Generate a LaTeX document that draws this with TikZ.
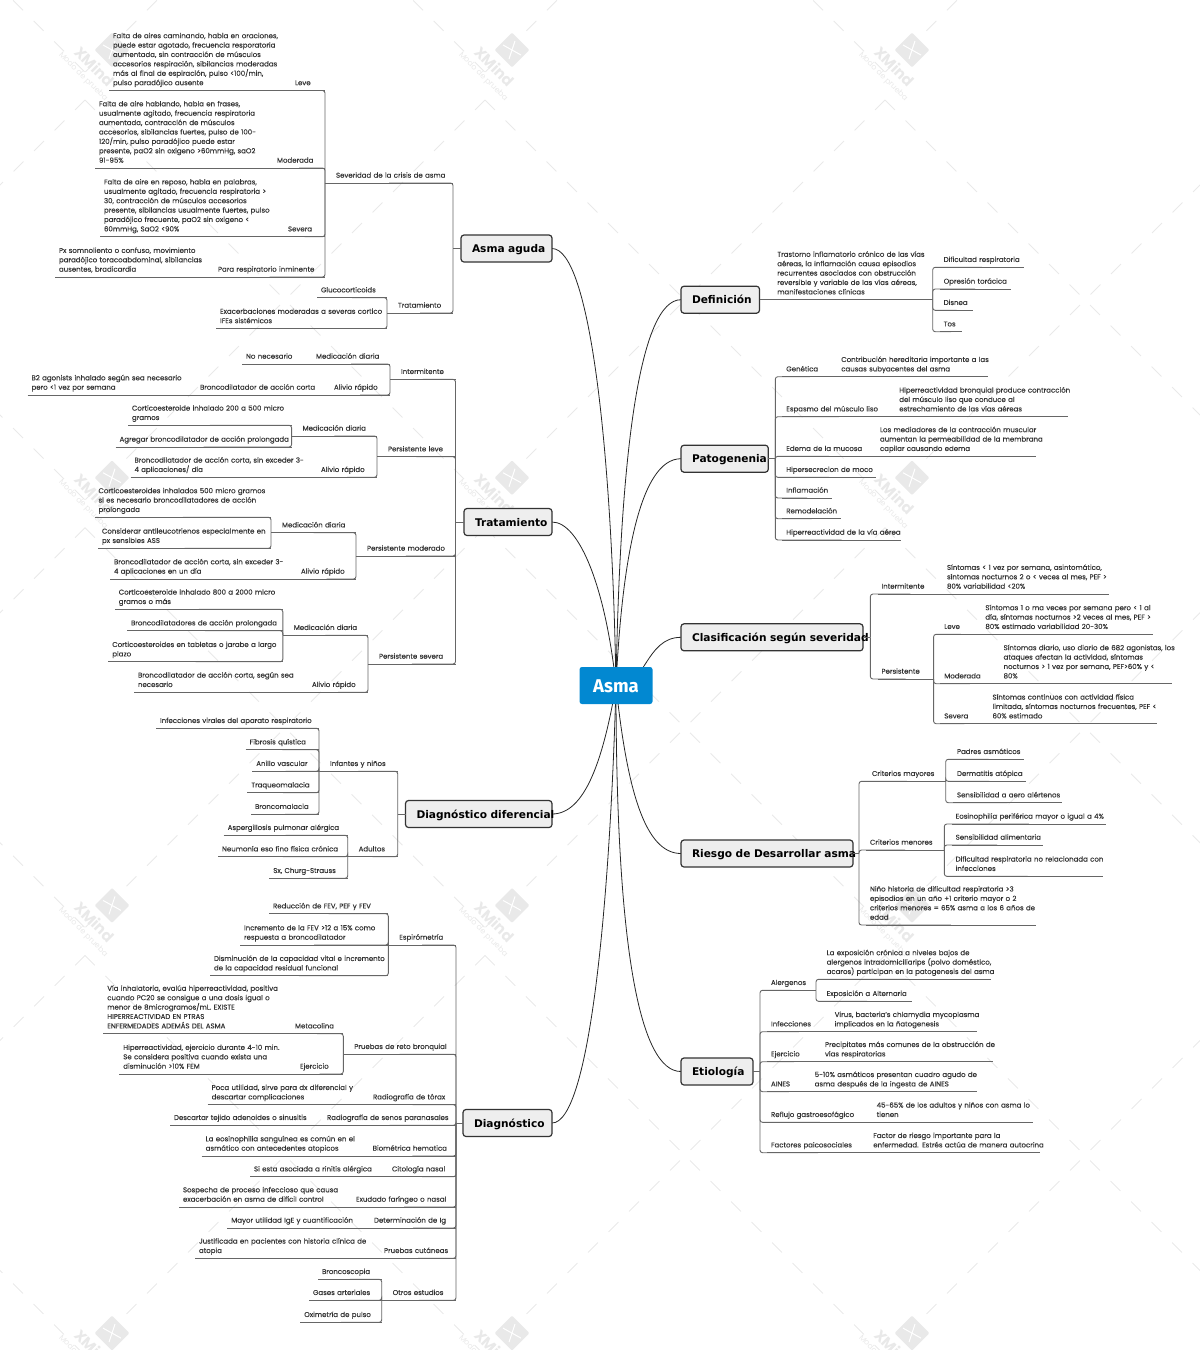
\documentclass[tikz,border=0pt]{standalone}
\usepackage{fontspec}
\setmainfont{Poppins}[FakeBold=0.15]
\newfontfamily\markfont{Poppins}
\newfontfamily\titlefont{DejaVu Sans}
\newfontfamily\rootfont{Fira Sans}
\usetikzlibrary{backgrounds}
\definecolor{wireC}{HTML}{666666}
\definecolor{boxC}{HTML}{EEEEEE}
\definecolor{rootC}{HTML}{0288D1}
\definecolor{markC}{HTML}{E9E9E9}
\newcommand{\pad}{\hspace*{7pt}}
\newcommand{\ttl}[1]{\raisebox{-1.4pt}[0pt][0pt]{#1}}
\tikzset{
  wire/.style={draw=wireC,line width=.9pt,rounded corners=2.5pt},
  curve/.style={draw=black!85,line width=.8pt},
  lined/.style={append after command={(\tikzlastnode.south west) edge[wire] (\tikzlastnode.south east)}},
  tp/.code={\pgfmathsetmacro\tpw{#1-8}\pgfkeysalso{/tikz/text width=\tpw pt,/tikz/lined}},
  tb/.code={\pgfmathsetmacro\tbw{#1-22}\pgfkeysalso{/tikz/text width=\tbw pt}},
  every node/.style={font=\fontsize{7}{9.4}\selectfont,text=black!80,anchor=south west,align=left,
    inner xsep=4pt,inner ysep=2.5pt,outer sep=0pt,
    execute at begin node={\rightskip=-60pt plus 1fil\relax},execute at end node={\strut}},
  mainbox/.style={tb=#1,anchor=west,draw=black!80,line width=1.2pt,fill=boxC,rounded corners=3pt,
    inner xsep=11pt,inner ysep=0pt,minimum height=27pt,text=black,execute at end node={},
    font=\titlefont\fontsize{10.6}{13}\bfseries\selectfont},
  rootbox/.style={anchor=center,fill=rootC,rounded corners=2.5pt,minimum width=73pt,minimum height=37pt,
    text=white,align=center,execute at begin node={},execute at end node={},
    font=\rootfont\fontsize{18.5}{20}\bfseries\selectfont},
  wmark/.style={text=markC,anchor=center,inner sep=0pt,execute at begin node={},execute at end node={}}
}
\begin{document}
\begin{tikzpicture}[x=1pt,y=-1pt]
\useasboundingbox (0,0) rectangle (1200,1350);
\node[rootbox] (root) at (616,685.5) {\raisebox{-3.2pt}[0pt][0pt]{Asma}};

% Asma aguda
\node[mainbox=91] (aguda) at (461,248.5) {\ttl{Asma aguda}};
\coordinate (agudaBr) at (453,248.5);
\node[tp=128] (sev) at (325,183) {\pad Severidad de la crisis de asma};
\node[tp=66] (agTrat) at (387,313) {\pad Tratamiento};
\node[tp=34] (leve) at (291,90.5) {Leve};
\node[tp=182] (leveT) at (109,90.5) {Falta de aires caminando, habla en oraciones,\\puede estar agotado, frecuencia resporatoria\\aumentada, sin contracción de músculos\\accesorios respiración, sibilancias moderadas\\más al final de espiración, pulso <100/min,\\pulso paradójico ausente};
\node[tp=52] (mod) at (273,168) {Moderada};
\node[tp=178] (modT) at (95,168) {Falta de aire hablando, habla en frases,\\usualmente agitado, frecuencia respiratoria\\aumentada, contracción de músculos\\accesorios, sibilancias fuertes, pulso de 100-\\120/min, pulso paradójico puede estar\\presente, paO2 sin oxigeno >60mmHg, saO2\\91-95\%};
\node[tp=41] (sevr) at (284,236.7) {Severa};
\node[tp=184] (sevrT) at (100,236.7) {Falta de aire en reposo, habla en palabras,\\usualmente agitado, frecuencia respiratoria >\\30, contracción de músculos accesorios\\presente, sibilancias usualmente fuertes, pulso\\paradójico frecuente, paO2 sin oxigeno <\\60mmHg, SaO2 <90\%};
\node[tp=111] (para) at (214,277) {Para respiratorio inminente};
\node[tp=159] (paraT) at (55,277) {Px somnoliento o confuso, movimiento\\paradójico toracoabdominal, sibilancias\\ausentes, bradicardia};
\node[tp=70] (gluco) at (317,297.7) {Glucocorticoids};
\node[tp=171] (exac) at (216,328.5) {Exacerbaciones moderadas a severas cortico\\IFEs sistémicos};
\draw[wire] (aguda.west) -- (agudaBr);
\foreach \c in {sev,agTrat} \draw[wire] (agudaBr) |- (\c.south);
\foreach \c in {leve,mod,sevr,para} \draw[wire] (sev.south west) |- (\c.south);
\foreach \c in {gluco,exac} \draw[wire] (agTrat.south west) |- (\c.south);

% Tratamiento
\node[mainbox=88] (trat) at (464,522) {\ttl{Tratamiento}};
\coordinate (tratBr) at (455.5,522);
\node[tp=65.5] (tInt) at (390,379.3) {\pad Intermitente};
\node[tp=78.5] (tLeve) at (377,456.7) {\pad Persistente leve};
\node[tp=99.5] (tMod) at (356,556) {\pad Persistente moderado};
\node[tp=87.5] (tSev) at (368,664) {\pad Persistente severa};
\node[tp=78] (iMed) at (312,364) {Medicación diaria};
\node[tp=70] (iMedT) at (242,364) {No necesario};
\node[tp=60] (iAli) at (330,395) {Alivio rápido};
\node[tp=134] (iAliT) at (196,395) {Broncodilatador de acción corta};
\node[tp=168.5] (iB2) at (27.5,395) {B2 agonists inhalado según sea necesario\\pero <1 vez por semana};
\node[tp=85.4] (lMed) at (291.6,436) {\pad Medicación diaria};
\node[tp=163.6] (lCor) at (128,425.3) {Corticoesteroide inhalado 200 a 500 micro\\gramos};
\node[tp=176] (lAgr) at (115.6,447) {Agregar broncodilatador de acción prolongada};
\node[tp=60] (lAli) at (317,477.3) {Alivio rápido};
\node[tp=186.5] (lAliT) at (130.5,477.3) {Broncodilatador de acción corta, sin exceder 3-\\4 aplicaciones/ día};
\node[tp=85] (mMed) at (271,532.7) {\pad Medicación diaria};
\node[tp=176.5] (mCor) at (94.5,517.3) {Corticoesteroides inhalados 500 micro gramos\\si es necesario broncodilatadores de acción\\prolongada};
\node[tp=173] (mCon) at (98,548.3) {Considerar antileucotrienos especialmente en\\px sensibles ASS};
\node[tp=59] (mAli) at (297,579) {Alivio rápido};
\node[tp=187] (mAliT) at (110,579) {Broncodilatador de acción corta, sin exceder 3-\\4 aplicaciones en un día};
\node[tp=85.2] (sMed) at (282.8,635.3) {\pad Medicación diaria};
\node[tp=168] (sCor) at (114.8,609.3) {Corticoesteroide inhalado 800 a 2000 micro\\gramos o más};
\node[tp=155.8] (sBro) at (127,630.7) {Broncodilatadores de acción prolongada};
\node[tp=174.5] (sTab) at (108.3,661.7) {Corticoesteroides en tabletas o jarabe a largo\\plazo};
\node[tp=60] (sAli) at (308,692.3) {Alivio rápido};
\node[tp=174] (sAliT) at (134,692.3) {Broncodilatador de acción corta, según sea\\necesario};
\draw[wire] (trat.west) -- (tratBr);
\foreach \c in {tInt,tLeve,tMod,tSev} \draw[wire] (tratBr) |- (\c.south);
\foreach \c in {iMed,iAli} \draw[wire] (tInt.south west) |- (\c.south);
\foreach \c in {lMed,lAli} \draw[wire] (tLeve.south west) |- (\c.south);
\foreach \c in {lCor,lAgr} \draw[wire] (lMed.south west) |- (\c.south);
\foreach \c in {mMed,mAli} \draw[wire] (tMod.south west) |- (\c.south);
\foreach \c in {mCor,mCon} \draw[wire] (mMed.south west) |- (\c.south);
\foreach \c in {sMed,sAli} \draw[wire] (tSev.south west) |- (\c.south);
\foreach \c in {sCor,sBro,sTab} \draw[wire] (sMed.south west) |- (\c.south);

% Diagnostico diferencial
\node[mainbox=146.5] (ddif) at (405.5,814) {\ttl{Diagnóstico diferencial}};
\coordinate (ddifBr) at (397.7,814);
\node[tp=78.7] (inf) at (319,771.3) {\pad Infantes y niños};
\node[tp=50] (adu) at (347.7,856.7) {\pad Adultos};
\node[tp=163] (iVir) at (156,728.3) {Infecciones virales del aparato respiratorio};
\node[tp=73.3] (iFib) at (245.7,749.7) {Fibrosis quística};
\node[tp=66.7] (iAni) at (252.3,771.3) {Anillo vascular};
\node[tp=71.7] (iTra) at (247.3,792.7) {Traqueomalacia};
\node[tp=68] (iBro) at (251,814.3) {Broncomalacia};
\node[tp=124] (aAsp) at (223.7,835.3) {Aspergillosis pulmonar alérgica};
\node[tp=129.7] (aNeu) at (218,856.7) {Neumonía eso fino física crónica};
\node[tp=78.4] (aSx) at (269.3,878.3) {Sx, Churg-Strauss};
\draw[wire] (ddif.west) -- (ddifBr);
\foreach \c in {inf,adu} \draw[wire] (ddifBr) |- (\c.south);
\foreach \c in {iVir,iFib,iAni,iTra,iBro} \draw[wire] (inf.south west) |- (\c.south);
\foreach \c in {aAsp,aNeu,aSx} \draw[wire] (adu.south west) |- (\c.south);

% Diagnostico
\node[mainbox=89] (diag) at (463,1123) {\ttl{Diagnóstico}};
\coordinate (diagBr) at (456,1123);
\node[tp=67.7] (esp) at (388.3,945) {\pad Espirómetría};
\node[tp=112.7] (ret) at (343.3,1054.3) {\pad Pruebas de reto bronquial};
\node[tp=119.3] (eRed) at (269,913.7) {Reducción de FEV, PEF y FEV};
\node[tp=148.3] (eInc) at (240,945) {Incremento de la FEV >12 a 15\% como\\respuesta a broncodilatador};
\node[tp=178.3] (eDis) at (210,975.7) {Disminución de la capacidad vital e incremento\\de la capacidad residual funcional};
\node[tp=52.3] (rMet) at (291,1033.7) {Metacolina};
\node[tp=187.7] (rMetT) at (103.3,1033.7) {Vía inhalatoria, evalúa hiperreactividad, positiva\\cuando PC20 se consigue a una dosis igual o\\menor de 8microgramos/mL. EXISTE\\HIPERREACTIVIDAD EN PTRAS\\ENFERMEDADES ADEMÁS DEL ASMA};
\node[tp=47.3] (rEje) at (296,1074) {Ejercicio};
\node[tp=176.7] (rEjeT) at (119.3,1074) {Hiperreactividad, ejercicio durante 4-10 min.\\Se considera positiva cuando exista una\\disminución >10\% FEM};
\node[tp=87] (dRad) at (369,1104.7) {Radiografía de tórax};
\node[tp=161.3] (dRadT) at (207.7,1104.7) {Poca utilidad, sirve para dx diferencial y\\descartar complicaciones};
\node[tp=133] (dSen) at (323,1125.3) {Radiografía de senos paranasales};
\node[tp=153] (dSenT) at (170,1125.3) {Descartar tejido adenoides o sinusitis};
\node[tp=87.3] (dBio) at (368.7,1156) {Biométrica hematica};
\node[tp=167] (dBioT) at (201.7,1156) {La eosinophilia sanguínea es común en el\\asmático con antecedentes atopicos};
\node[tp=68] (dCit) at (388,1176.7) {Citología nasal};
\node[tp=138] (dCitT) at (250,1176.7) {Si esta asociada a rinitis alérgica};
\node[tp=104] (dExu) at (352,1207) {Exudado faríngeo o nasal};
\node[tp=173] (dExuT) at (179,1207) {Sospecha de proceso infeccioso que causa\\exacerbación en asma de difícil control};
\node[tp=86] (dDet) at (370,1228) {Determinación de Ig};
\node[tp=142.7] (dDetT) at (227.3,1228) {Mayor utilidad IgE y cuantificación};
\node[tp=76] (dCut) at (380,1258.3) {Pruebas cutáneas};
\node[tp=185] (dCutT) at (195,1258.3) {Justificada en pacientes con historia clínica de\\atopia};
\node[tp=74.3] (dOtr) at (381.7,1300.3) {\pad Otros estudios};
\node[tp=63.7] (oBro) at (318,1279.3) {Broncoscopia};
\node[tp=72.7] (oGas) at (309,1300.3) {Gases arteriales};
\node[tp=81.4] (oOxi) at (300.3,1322.3) {Oximetría de pulso};
\draw[wire] (diag.west) -- (diagBr);
\foreach \c in {esp,ret,dRad,dSen,dBio,dCit,dExu,dDet,dCut,dOtr} \draw[wire] (diagBr) |- (\c.south);
\foreach \c in {eRed,eInc,eDis} \draw[wire] (esp.south west) |- (\c.south);
\foreach \c in {rMet,rEje} \draw[wire] (ret.south west) |- (\c.south);
\foreach \c in {oBro,oGas,oOxi} \draw[wire] (dOtr.south west) |- (\c.south);

% Definicion
\node[mainbox=78.5] (defi) at (681,299.7) {\ttl{Definición}};
\node[tp=159.4] (tras) at (773.3,299.7) {Trastorno inflamatorio crónico de las vías\\aéreas, la inflamación causa episodios\\recurrentes asociados con obstrucción\\reversible y variable de las vías aéreas,\\manifestaciones clínicas};
\node[tp=84.3] (dDif) at (939.7,267.3) {Dificultad respiratoria};
\node[tp=71] (dOpr) at (939.7,289) {Opresión torácica};
\node[tp=33.6] (dDis) at (939.7,310.3) {Disnea};
\node[tp=22.6] (dTos) at (939.7,331.7) {Tos};
\draw[wire] (defi.east) -- (tras.south west);
\foreach \c in {dDif,dOpr,dDis,dTos} \draw[wire] (tras.south east) |- (\c.south);

% Patogenenia
\node[mainbox=87.3] (pato) at (681,458.7) {\ttl{Patogenenia}};
\coordinate (patoBr) at (775.3,458.7);
\node[tp=55] (pGen) at (782.3,376.7) {Genética};
\node[tp=150.4] (pGenT) at (837.3,376.7) {Contribución hereditaria importante a las\\causas subyacentes del asma};
\node[tp=113] (pEsp) at (782.3,416.7) {Espasmo del músculo liso};
\node[tp=172.4] (pEspT) at (895.3,416.7) {Hiperreactividad bronquial produce contracción\\del músculo liso que conduce al\\estrechamiento de las vías aéreas};
\node[tp=93.7] (pEde) at (782.3,456.3) {Edema de la mucosa};
\node[tp=159.7] (pEdeT) at (876,456.3) {Los mediadores de la contracción muscular\\aumentan la permeabilidad de la membrana\\capilar causando edema};
\node[tp=93.4] (pHip) at (782.3,477.3) {Hipersecrecion de moco};
\node[tp=49.4] (pInf) at (782.3,498) {Inflamación};
\node[tp=58.4] (pRem) at (782.3,518.7) {Remodelación};
\node[tp=118.4] (pHrr) at (782.3,540) {Hiperreactividad de la vía aérea};
\draw[wire] (pato.east) -- (patoBr);
\foreach \c in {pGen,pEsp,pEde,pHip,pInf,pRem,pHrr} \draw[wire] (patoBr) |- (\c.south);

% Clasificacion
\node[mainbox=182] (clas) at (681,637.3) {\ttl{Clasificación según severidad}};
\coordinate (clasBr) at (870.4,637.3);
\node[tp=65.5] (cInt) at (877.5,594) {Intermitente};
\node[tp=165.7] (cIntT) at (943,594) {Síntomas < 1 vez por semana, asintomático,\\síntomas nocturnos 2 o < veces al mes, PEF >\\80\% variabilidad <20\%};
\node[tp=56.1] (cPer) at (877.5,679) {Persistente};
\node[tp=41] (cLev) at (940.3,634.3) {Leve};
\node[tp=171.2] (cLevT) at (981.4,634.3) {Síntomas 1 o ma veces por semana pero < 1 al\\día, síntomas nocturnos >2 veces al mes, PEF >\\80\% estimado variabilidad 20-30\%};
\node[tp=59.3] (cMod) at (940.3,683.7) {Moderada};
\node[tp=172.8] (cModT) at (999.6,683.7) {Síntomas diario, uso diario de 682 agonistas, los\\ataques afectan la actividad, síntomas\\nocturnos > 1 vez por semana, PEF>60\% y <\\80\%};
\node[tp=48.2] (cSev) at (940.3,723.7) {Severa};
\node[tp=168.9] (cSevT) at (988.5,723.7) {Síntomas continuos con actividad física\\limitada, síntomas nocturnos frecuentes, PEF <\\60\% estimado};
\draw[wire] (clas.east) -- (clasBr);
\foreach \c in {cInt,cPer} \draw[wire] (clasBr) |- (\c.south);
\foreach \c in {cLev,cMod,cSev} \draw[wire] (cPer.south east) |- (\c.south);

% Riesgo
\node[mainbox=172] (ries) at (681,853.5) {\ttl{Riesgo de Desarrollar asma}};
\coordinate (riesBr) at (859,853.5);
\node[tp=77.7] (rMay) at (868,781.3) {Criterios mayores};
\node[tp=71] (rPad) at (953,759.3) {Padres asmáticos};
\node[tp=72.7] (rDer) at (953,781.3) {Dermatitis atópica};
\node[tp=109.3] (rSen) at (953,802.7) {Sensibilidad a aero alértenos};
\node[tp=78.3] (rMen) at (866,850) {Criterios menores};
\node[tp=154.3] (rEos) at (951.7,824) {Eosinophilia periférica mayor o igual a 4\%};
\node[tp=91] (rAli) at (951.7,845) {Sensibilidad alimentaria};
\node[tp=151.6] (rDif) at (951.7,876.3) {Dificultad respiratoria no relacionada con\\infecciones};
\node[tp=169.7] (rNin) at (866,925) {Niño historia de dificultad respiratoria >3\\episodios en un año +1 criterio mayor o 2\\criterios menores = 65\% asma a los 6 años de\\edad};
\draw[wire] (ries.east) -- (riesBr);
\foreach \c in {rMay,rMen,rNin} \draw[wire] (riesBr) |- (\c.south);
\foreach \c in {rPad,rDer,rSen} \draw[wire] (rMay.south east) |- (\c.south);
\foreach \c in {rEos,rAli,rDif} \draw[wire] (rMen.south east) |- (\c.south);

% Etiologia
\node[mainbox=72] (etio) at (681,1071.5) {\ttl{Etiología}};
\coordinate (etioBr) at (760,1071.5);
\node[tp=49] (eAle) at (767,990.3) {Alergenos};
\node[tp=168] (eAleT) at (822.7,979.3) {La exposición crónica a niveles bajos de\\alergenos intradomiciliarips (polvo doméstico,\\acaros) participan en la patogenesis del asma};
\node[tp=89] (eAlt) at (822.7,1001.3) {Exposición a Alternaria};
\node[tp=63.7] (eInf) at (767,1031.7) {Infecciones};
\node[tp=146.6] (eInfT) at (830.7,1031.7) {Virus, bacteria's chlamydia mycoplasma\\implicados en la ñatogenesis};
\node[tp=54] (eEje) at (767,1061.7) {Ejercicio};
\node[tp=172.3] (eEjeT) at (821,1061.7) {Precipitates más comunes de la obstrucción de\\vías respiratorias};
\node[tp=43.7] (eAin) at (767,1091.7) {AINES};
\node[tp=166] (eAinT) at (810.7,1091.7) {5-10\% asmáticos presentan cuadro agudo de\\asma después de la ingesta de AINES};
\node[tp=105.7] (eRef) at (767,1122.3) {Reflujo gastroesofágico};
\node[tp=160] (eRefT) at (872.7,1122.3) {45-65\% de los adultos y niños con asma lo\\tienen};
\node[tp=102.3] (eFac) at (767,1152.7) {Factores paicosociales};
\node[tp=170.7] (eFacT) at (869.3,1152.7) {Factor de riesgo importante para la\\enfermedad. Estrés actúa de manera autocrina};
\draw[wire] (etio.east) -- (etioBr);
\foreach \c in {eAle,eInf,eEje,eAin,eRef,eFac} \draw[wire] (etioBr) |- (\c.south);
\foreach \c in {eAleT,eAlt} \draw[wire] (eAle.south east) |- (\c.south);

\begin{scope}[on background layer]
  % watermark
  \begin{scope}
  \clip (0,0) rectangle (1200,1350);
  \foreach \i in {-1,...,3} \foreach \j in {-1,...,3} {
    \pgfmathsetmacro\mx{112+400*\i}
    \pgfmathsetmacro\my{50+427.7*\j}
    \draw[markC,line width=.9pt,dash pattern=on 14pt off 15pt] (\mx-27,\my+50) -- ++(400,400);
    \draw[markC,line width=.9pt,dash pattern=on 14pt off 15pt] (\mx-27,\my+50) -- ++(-400,400);
  }
  \foreach \i in {0,1,2} \foreach \j in {0,1,2,3} {
    \pgfmathsetmacro\mx{112+400*\i}
    \pgfmathsetmacro\my{50+427.7*\j}
    \fill[markC,draw=markC,line width=2pt,line join=round] (\mx-16,\my) -- (\mx,\my-16) -- (\mx+16,\my) -- (\mx,\my+16) -- cycle;
    \draw[white,line width=1pt] (\mx-9,\my-5) -- (\mx+9,\my+5) (\mx-3,\my+9) -- (\mx+3,\my-9);
    \node[wmark,rotate=-45,font=\markfont\bfseries\fontsize{15}{17}\selectfont] (xm\i\j) at (\mx-19,\my+18) {XMind};
    \node[wmark,rotate=-45,font=\markfont\fontsize{7.9}{9}\selectfont] (mo\i\j) at (\mx-29,\my+27) {Modo de prueba};
  }
  \end{scope}
  \draw[curve] (root.center) .. controls (612,450) and (590,248.5) .. (aguda.east);
  \draw[curve] (root.center) .. controls (606,590) and (580,522) .. (trat.east);
  \draw[curve] (root.center) .. controls (603,760) and (585,814) .. (ddif.east);
  \draw[curve] (root.center) .. controls (610,900) and (590,1123) .. (diag.east);
  \draw[curve] (root.center) .. controls (620,450) and (640,299.7) .. (defi.west);
  \draw[curve] (root.center) .. controls (622,560) and (640,458.7) .. (pato.west);
  \draw[curve] (root.center) .. controls (645,690) and (645,637.3) .. (clas.west);
  \draw[curve] (root.center) .. controls (627,790) and (645,853.5) .. (ries.west);
  \draw[curve] (root.center) .. controls (616,950) and (640,1071.5) .. (etio.west);
\end{scope}
\end{tikzpicture}
\end{document}
